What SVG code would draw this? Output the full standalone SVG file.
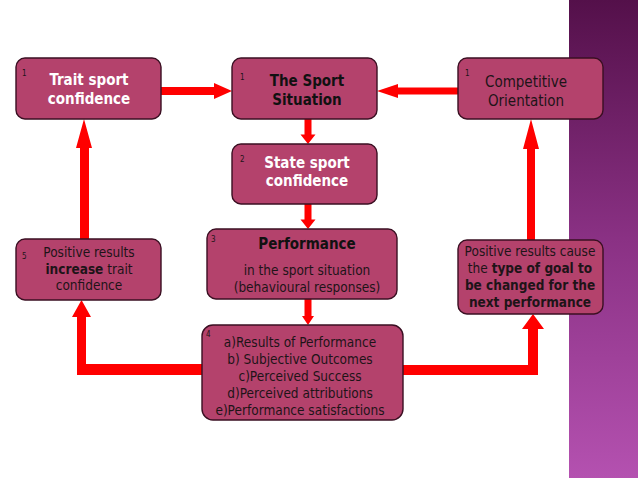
<svg xmlns="http://www.w3.org/2000/svg" width="638" height="479" viewBox="0 0 638 479">
<defs>
<linearGradient id="strip" x1="0" y1="0" x2="0" y2="1">
<stop offset="0" stop-color="#54104a"/>
<stop offset="0.5" stop-color="#8a3184"/>
<stop offset="1" stop-color="#b451b0"/>
</linearGradient>
<style>
.box{fill:#b4426c;stroke:#3a0f22;stroke-width:1.4}
.arr{fill:#ff0000}
text{font-family:"DejaVu Sans Condensed","DejaVu Sans",sans-serif;text-anchor:middle}
.w{fill:#ffffff;font-weight:bold;font-size:15px}
.b{fill:#111111;font-weight:bold;font-size:15px}
.n{fill:#1e1418;font-size:13.5px}
.num{fill:#1e1418;font-size:8px;text-anchor:start}
.bd{font-weight:bold}
</style>
</defs>
<rect width="638" height="479" fill="#ffffff"/>
<rect x="569" y="0" width="69" height="478" fill="url(#strip)"/>

<g id="connectors">
<path class="arr" d="M161,87 H214 V83 L232,91 L214,99 V95 H161 Z"/>
<path class="arr" d="M458,87.5 H398 V84 L377,91 L398,98 V94.5 H458 Z"/>
<path class="arr" d="M304.5,119 H311.5 V134.5 H315.5 L308,144 L300.5,134.5 H304.5 Z"/>
<path class="arr" d="M304.5,204 H311.5 V219.5 H315.5 L308,229 L300.5,219.5 H304.5 Z"/>
<path class="arr" d="M304.5,299 H311.5 V316 H314 L308,325 L302,316 H304.5 Z"/>
<path class="arr" d="M202,364 H86 V317 H91 L81.5,300 L72,317 H77 V375 H202 Z"/>
<path class="arr" d="M403,365 H528 V329 H522 L533,314 L544,329 H538 V375 H403 Z"/>
<path class="arr" d="M80,239 V148 H76 L84,119 L92,148 H89 V239 Z"/>
<path class="arr" d="M527,240 V149 H523 L531,119 L539,149 H535 V240 Z"/>
</g>

<g id="trait">
<rect class="box" x="16" y="58" width="145" height="61" rx="9"/>
<text class="num" x="22" y="76">1</text>
<text class="w" x="89" y="85">Trait sport</text>
<text class="w" x="89" y="104">confidence</text>
</g>

<g id="situation">
<rect class="box" x="232" y="58" width="145" height="61" rx="9"/>
<text class="num" x="240" y="80">1</text>
<text class="b" x="307" y="86">The Sport</text>
<text class="b" x="307" y="105">Situation</text>
</g>

<g id="competitive">
<rect class="box" x="458" y="58" width="145" height="61" rx="9"/>
<text class="num" x="465" y="76">1</text>
<text class="n" x="526" y="87" style="font-size:15px">Competitive</text>
<text class="n" x="526" y="106" style="font-size:15px">Orientation</text>
</g>

<g id="state">
<rect class="box" x="232" y="144" width="145" height="60" rx="9"/>
<text class="num" x="240" y="162">2</text>
<text class="w" x="307" y="168">State sport</text>
<text class="w" x="307" y="186">confidence</text>
</g>

<g id="performance">
<rect class="box" x="207" y="229" width="190" height="70" rx="9"/>
<text class="num" x="211" y="242">3</text>
<text class="b" x="307" y="249">Performance</text>
<text class="n" x="307" y="275">in the sport situation</text>
<text class="n" x="307" y="292">(behavioural responses)</text>
</g>

<g id="increase">
<rect class="box" x="16" y="239" width="145" height="61" rx="9"/>
<text class="num" x="22" y="259">5</text>
<text class="n" x="89" y="257">Positive results</text>
<text class="n" x="89" y="274"><tspan class="bd">increase</tspan> trait</text>
<text class="n" x="89" y="290">confidence</text>
</g>

<g id="goal">
<rect class="box" x="458" y="240" width="145" height="74" rx="9"/>
<text class="n" x="530" y="256">Positive results cause</text>
<text class="n" x="530" y="273">the <tspan class="bd">type of goal to</tspan></text>
<text class="n bd" x="530" y="290">be changed for the</text>
<text class="n bd" x="530" y="307">next performance</text>
</g>

<g id="results">
<rect class="box" x="202" y="325" width="201" height="95" rx="11"/>
<text class="num" x="206" y="337">4</text>
<text class="n" x="300" y="347">a)Results of Performance</text>
<text class="n" x="300" y="364">b) Subjective Outcomes</text>
<text class="n" x="300" y="381">c)Perceived Success</text>
<text class="n" x="300" y="398">d)Perceived attributions</text>
<text class="n" x="300" y="415">e)Performance satisfactions</text>
</g>
</svg>
